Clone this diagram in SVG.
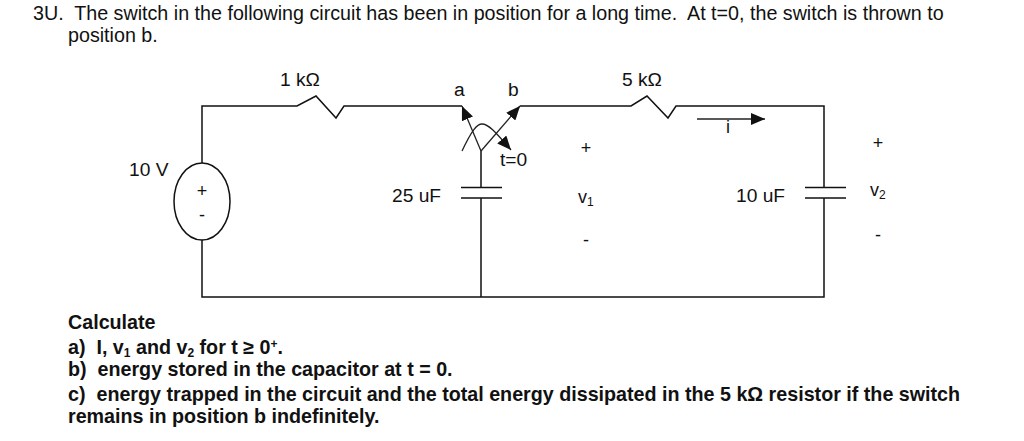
<svg xmlns="http://www.w3.org/2000/svg" width="1024" height="441" viewBox="0 0 1024 441">
<style>
text{font-family:"Liberation Sans",Arial,sans-serif;font-size:19.200px;fill:#111;white-space:pre}
.t{font-size:19.700px}
.b{font-weight:bold;font-size:19.700px}
.s{font-size:18px}
.u{font-size:12px}
.w{fill:none;stroke:#111;stroke-width:1.5}
.sw{fill:none;stroke:#222;stroke-width:1.3}
</style>
<defs>
<marker id="ah" viewBox="0 0 14 12" refX="14" refY="6" markerWidth="14" markerHeight="12" markerUnits="userSpaceOnUse" orient="auto"><path d="M0 0L14 6L0 12Z" fill="#111"/></marker>
</defs>
<rect width="1024" height="441" fill="#fff"/>
<g id="problem">
<text x="33" y="20" class="t">3U.  The switch in the following circuit has been in position for a long time.  At t=0, the switch is thrown to</text>
<text x="68" y="42" class="t">position b.</text>
</g>
<g id="connectors">
<path class="w" d="M202 163V106H297L316 96L336 118L344 106H462"/>
<path class="w" d="M202 240V297H824V198"/>
<path class="w" d="M520 106H631L647 96L668 118L676 106H824V187"/>
<path class="w" d="M481 151V187M481 198V297"/>
<path class="sw" d="M481 151L462 106" marker-end="url(#ah)"/>
<path class="sw" d="M481 151L520 106" marker-end="url(#ah)"/>
<path class="sw" d="M462 151C472 130 477 124 482 124C489 124 497 134 511 150" marker-end="url(#ah)"/>
<path class="sw" d="M697 119H765" marker-end="url(#ah)"/>
</g>
<g id="source"><ellipse class="w" cx="202" cy="201.500" rx="28" ry="38.500" fill="#fff"/>
<text x="202" y="197" class="s" text-anchor="middle">+</text><text x="202" y="221" class="s" text-anchor="middle">-</text>
<text x="129" y="176">10 V</text></g>
<g id="r1"><text x="280" y="86">1 kΩ</text></g>
<g id="switch"><text x="454" y="96">a</text><text x="508" y="96">b</text><text x="500" y="166">t=0</text></g>
<g id="c1"><path class="w" d="M461 187.500H502M461 198H502"/><text x="392" y="202">25 uF</text></g>
<g id="v1"><text x="586" y="154" class="s" text-anchor="middle">+</text><text x="578" y="203" class="s">v<tspan class="u" dy="3">1</tspan></text><text x="586" y="246" class="s" text-anchor="middle">-</text></g>
<g id="r2"><text x="622" y="86">5 kΩ</text></g>
<g id="i"><text x="726" y="133" class="s">i</text></g>
<g id="c2"><path class="w" d="M805 187.500H846M805 198H846"/><text x="736" y="202">10 uF</text></g>
<g id="v2"><text x="878" y="149" class="s" text-anchor="middle">+</text><text x="870" y="196" class="s">v<tspan class="u" dy="3">2</tspan></text><text x="878" y="241" class="s" text-anchor="middle">-</text></g>
<g id="questions">
<text x="68" y="329" class="b">Calculate</text>
<text x="68" y="354" class="b">a)  I, v<tspan class="u" dy="3">1</tspan><tspan dy="-3"> and v</tspan><tspan class="u" dy="3">2</tspan><tspan dy="-3"> for t ≥ 0</tspan><tspan class="u" dy="-6">+</tspan><tspan dy="6">.</tspan></text>
<text x="68" y="376" class="b">b)  energy stored in the capacitor at t = 0.</text>
<text x="68" y="401" class="b">c)  energy trapped in the circuit and the total energy dissipated in the 5 kΩ resistor if the switch</text>
<text x="68" y="423" class="b">remains in position b indefinitely.</text>
</g>
</svg>
